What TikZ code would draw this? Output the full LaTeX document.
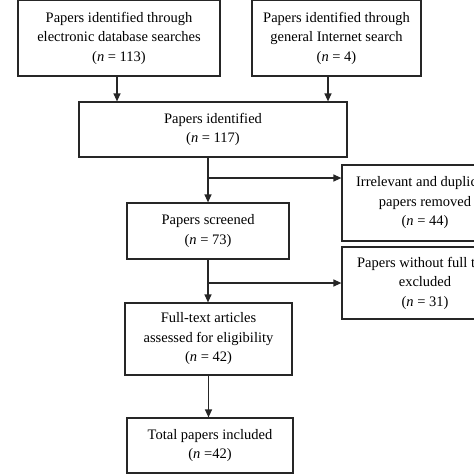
\documentclass[tikz,border=0pt]{standalone}
\usepackage{fontspec}
\setmainfont{Liberation Serif}
\usetikzlibrary{arrows.meta}

\begin{document}
\begin{tikzpicture}[x=1pt,y=-1pt,line width=1.2pt,draw=black!85,
    >={Triangle[length=8pt,width=7pt]},
    box/.style={draw=black!85,align=center,inner sep=0pt,
      font=\fontsize{14.5}{19.5}\selectfont}]
          \useasboundingbox (0,0) rectangle (474,474);
          \clip (0,0) rectangle (474,474);
          \node[box,minimum width=202,minimum height=76] (elec) at (119,38)
            {Papers identified through\\electronic database searches\\(\textit{n} = 113)};
          \node[box,minimum width=169,minimum height=76] (inet) at (336.5,38)
            {Papers identified through\\general Internet search\\(\textit{n} = 4)};
          \node[box,minimum width=268,minimum height=55] (ident) at (213,129.5)
            {Papers identified\\(\textit{n} = 117)};
          \node[box,minimum width=166,minimum height=76] (dupl) at (425,203)
            {Irrelevant and duplicate\\papers removed\\(\textit{n} = 44)};
          \node[box,minimum width=162,minimum height=56] (scrn) at (208,231)
            {Papers screened\\(\textit{n} = 73)};
          \node[box,minimum width=166,minimum height=72] (nofull) at (425,283)
            {Papers without full text\\excluded\\(\textit{n} = 31)};
          \node[box,minimum width=167,minimum height=72] (elig) at (208.5,339)
            {Full-text articles\\assessed for eligibility\\(\textit{n} = 42)};
          \node[box,minimum width=166,minimum height=55] (total) at (210,445.5)
            {Total papers included\\(\textit{n} =42)};
          \coordinate (split1) at (208,178);
          \coordinate (split2) at (208,283);
          \draw[->] ([xshift=-2]elec.south) -- ([xshift=-2]elec.south |- ident.north);
          \draw[->] ([xshift=-8.5]inet.south) -- ([xshift=-8.5]inet.south |- ident.north);
          \draw[->] (scrn.north |- ident.south) -- (scrn.north);
          \draw[->] (split1) -- (split1 -| dupl.west);
          \draw[->] (scrn.south) -- (scrn.south |- elig.north);
          \draw[->] (split2) -- (nofull.west);
          \draw[->] (elig.south) -- (elig.south |- total.north);
        \end{tikzpicture}
\end{document}
